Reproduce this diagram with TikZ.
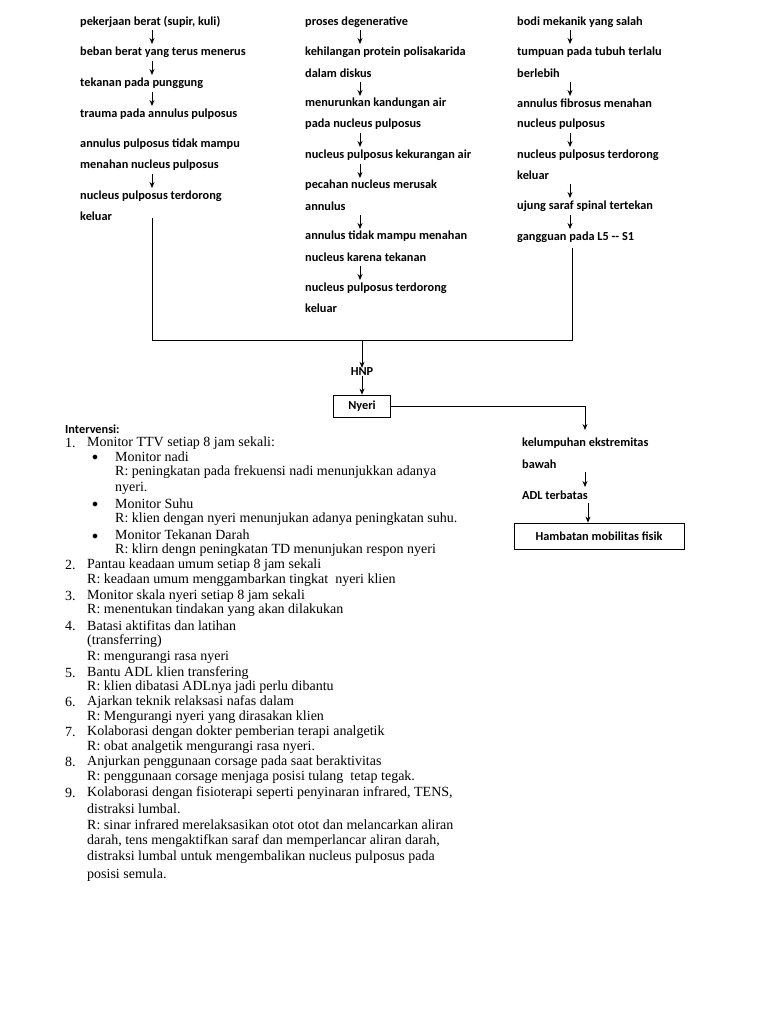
\documentclass[tikz,border=0pt]{standalone}
\usepackage{fontspec}
\setmainfont{Liberation Serif}
\newfontfamily\flowfont{Carlito}
\usetikzlibrary{arrows.meta}
\begin{document}
\begin{tikzpicture}[x=1pt,y=-1pt,
 ft/.style={anchor=west,inner sep=0pt,font=\flowfont\bfseries\fontsize{12.3}{14}\selectfont},
 lt/.style={anchor=west,inner sep=0pt,font=\fontsize{14}{15}\selectfont},
 bt/.style={anchor=center,inner sep=0pt,font=\fontsize{12}{13}\selectfont},
 ar/.style={-{Stealth[length=6pt,width=5pt]},thick},
 ln/.style={thick}]
\useasboundingbox (0,0) rectangle (768,1024);
% column 1
\foreach \t/\y [count=\i] in {{pekerjaan berat (supir, kuli)}/22,{beban berat yang terus menerus}/52,{tekanan pada punggung}/83,{trauma pada annulus pulposus}/114,{annulus pulposus tidak mampu}/144,{menahan nucleus pulposus}/165,{nucleus pulposus terdorong}/196,{keluar}/216}
  \node[ft] (a\i) at (80,\y) {\t};
\foreach \y in {30,61,92,174}{\draw[ar] (152,\y) -- (152,\y+14);}
\coordinate (a9) at (152,218);
% column 2
\foreach \t/\y [count=\i] in {{proses degenerative}/22,{kehilangan protein polisakarida}/52,{dalam diskus}/73,{menurunkan kandungan air}/103,{pada nucleus pulposus}/124,{nucleus pulposus kekurangan air}/155,{pecahan nucleus merusak}/185,{annulus}/206,{annulus tidak mampu menahan}/236,{nucleus karena tekanan}/257,{nucleus pulposus terdorong}/288,{keluar}/308}
  \node[ft] (b\i) at (305,\y) {\t};
\foreach \y in {30,82,133,164,215,266}{\draw[ar] (360,\y) -- (360,\y+14);}
% column 3
\foreach \t/\y [count=\i] in {{bodi mekanik yang salah}/22,{tumpuan pada tubuh terlalu}/52,{berlebih}/73,{annulus fibrosus menahan}/103,{nucleus pulposus}/124,{nucleus pulposus terdorong}/155,{keluar}/175,{ujung saraf spinal tertekan}/206,{gangguan pada L5 -- S1}/237}
  \node[ft] (c\i) at (517,\y) {\t};
\foreach \y in {30,82,133,184,215}{\draw[ar] (570,\y) -- (570,\y+14);}
% merge
\coordinate (m1) at (152,340);
\coordinate (m2) at (572,340);
\coordinate (m3) at (362,340);
\draw[ln] (a9) -- (m1) -- (m2) -- (572,248);
\node[ft,anchor=center] (hnp) at (362,372) {HNP};
\draw[ar] (m3) -- (hnp.north);
\node[draw,thick,minimum width=57pt,minimum height=22pt,font=\flowfont\bfseries\fontsize{12.3}{14}\selectfont] (nyeri) at (362,406) {Nyeri};
\draw[ar] (hnp.south) -- (nyeri.north);
\node[ft] (k1) at (522,443) {kelumpuhan ekstremitas};
\node[ft] (k2) at (522,464) {bawah};
\draw[ar] (nyeri.east) -- (585,406) -- (585,430);
\node[ft] (adl) at (522,495) {ADL terbatas};
\draw[ar] (585,472) -- (585,487);
\node[draw,thick,minimum width=170pt,minimum height=26pt,font=\flowfont\bfseries\fontsize{12.3}{14}\selectfont] (hm) at (599,536) {Hambatan mobilitas fisik};
\draw[ar] (588,503) -- (hm.north -| 588,0);
% interventions
\node[ft] (iv) at (65,429) {Intervensi:};
\foreach \y [count=\i] in {458,505,537}{\node[bt] (bu\i) at (95,\y) {$\bullet$};}
\foreach \t/\x/\y [count=\i] in {
{1.}/65/443,{Monitor TTV setiap 8 jam sekali:}/87/443,
{Monitor nadi}/115/457,{R: peningkatan pada frekuensi nadi menunjukkan adanya}/115/472,{nyeri.}/115/488,
{Monitor Suhu}/115/504,{R: klien dengan nyeri menunjukan adanya peningkatan suhu.}/115/519,
{Monitor Tekanan Darah}/115/535,{R: klirn dengn peningkatan TD menunjukan respon nyeri}/115/550,
{2.}/65/565,{Pantau keadaan umum setiap 8 jam sekali}/87/565,{R: keadaan umum menggambarkan tingkat\ \ nyeri klien}/87/580,
{3.}/65/596,{Monitor skala nyeri setiap 8 jam sekali}/87/596,{R: menentukan tindakan yang akan dilakukan}/87/610,
{4.}/65/626,{Batasi aktifitas dan latihan}/87/626,{(transferring)}/87/641,{R: mengurangi rasa nyeri}/87/657,
{5.}/65/673,{Bantu ADL klien transfering}/87/673,{R: klien dibatasi ADLnya jadi perlu dibantu}/87/687,
{6.}/65/702,{Ajarkan teknik relaksasi nafas dalam}/87/702,{R: Mengurangi nyeri yang dirasakan klien}/87/717,
{7.}/65/732,{Kolaborasi dengan dokter pemberian terapi analgetik}/87/732,{R: obat analgetik mengurangi rasa nyeri.}/87/747,
{8.}/65/762,{Anjurkan penggunaan corsage pada saat beraktivitas}/87/762,{R: penggunaan corsage menjaga posisi tulang\ \ tetap tegak.}/87/777,
{9.}/65/793,{Kolaborasi dengan fisioterapi seperti penyinaran infrared, TENS,}/87/793,{distraksi lumbal.}/87/809,
{R: sinar infrared merelaksasikan otot otot dan melancarkan aliran}/87/825,{darah, tens mengaktifkan saraf dan memperlancar aliran darah,}/87/841,
{distraksi lumbal untuk mengembalikan nucleus pulposus pada}/87/857,{posisi semula.}/87/875}
  \node[lt] (l\i) at (\x,\y) {\t};
\end{tikzpicture}
\end{document}
